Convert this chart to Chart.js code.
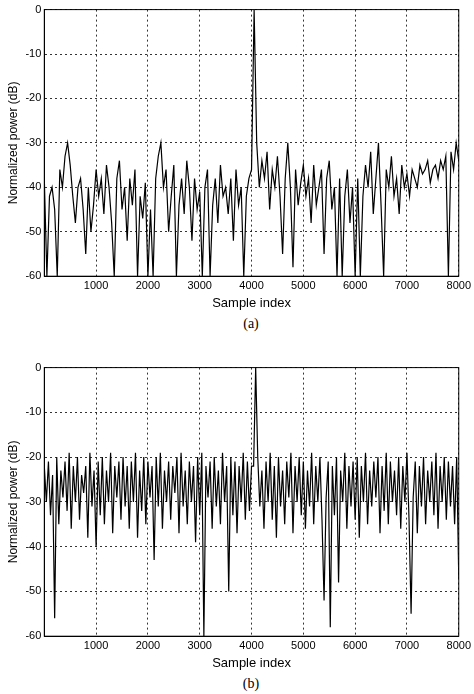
<!DOCTYPE html>
<html><head><meta charset="utf-8">
<script src="https://cdn.jsdelivr.net/npm/chart.js@4"></script>
<style>
body{margin:0;background:#fff;width:474px;height:694px;position:relative;font-family:"Liberation Serif",serif;}
.c{position:absolute;left:0;width:474px;}
.lab{position:absolute;width:474px;text-align:center;font-size:14px;left:14px;}
</style></head><body>
<div class="c" style="top:0;height:315px"><canvas id="ca"></canvas></div>
<div class="lab" style="top:316px">(a)</div>
<div class="c" style="top:358px;height:317px"><canvas id="cb"></canvas></div>
<div class="lab" style="top:676px">(b)</div>
<script>
const stepA = 50, stepB = 40;
const powerA = [-38,-60,-42,-40,-45,-60,-36,-40,-33,-30,-35,
-42,-48,-40,-38,-45,-55,-40,-50,-44,-36,
-42,-38,-46,-35,-40,-48,-60,-38,-34,-45,
-40,-52,-38,-44,-36,-60,-42,-47,-39,-60,
-45,-60,-38,-33,-30,-40,-36,-50,-42,-35,
-60,-44,-38,-46,-34,-40,-52,-38,-45,-41,
-60,-40,-36,-60,-44,-38,-48,-35,-42,-40,
-46,-38,-52,-36,-44,-40,-60,-42,-38,-36,
0,-30,-40,-34,-38,-32,-45,-36,-40,-33,
-42,-55,-38,-30,-40,-58,-36,-44,-39,-35,
-42,-38,-48,-35,-44,-40,-36,-55,-38,-34,
-45,-40,-60,-38,-60,-42,-36,-48,-40,-60,
-38,-60,-42,-35,-40,-32,-46,-38,-30,-44,
-60,-36,-40,-33,-42,-38,-46,-35,-40,-37,
-42,-36,-38,-40,-35,-37,-36,-34,-39,-36,
-35,-38,-34,-36,-33,-60,-32,-36,-30,-34];
const powerB = [-22,-30,-21,-33,-24,-56,-20,-35,-23,-29,
-21,-32,-19,-36,-22,-30,-20,-34,-24,-28,
-22,-38,-19,-31,-23,-40,-21,-33,-20,-35,
-23,-30,-19,-37,-22,-29,-21,-34,-20,-31,
-22,-36,-21,-30,-19,-38,-23,-32,-20,-35,
-21,-29,-22,-43,-20,-31,-19,-36,-23,-30,
-21,-34,-22,-28,-20,-37,-19,-31,-23,-35,
-21,-30,-22,-39,-20,-33,-19,-60,-22,-29,
-21,-36,-20,-31,-23,-35,-19,-30,-22,-50,
-20,-33,-21,-37,-22,-30,-19,-34,-21,-32,
-22,-22,0,-20,-31,-23,-36,-21,-30,-19,
-34,-22,-38,-20,-31,-23,-35,-21,-29,-19,
-37,-22,-30,-20,-33,-21,-36,-23,-31,-19,
-35,-22,-30,-20,-34,-52,-29,-21,-58,-22,
-33,-20,-48,-23,-30,-19,-36,-22,-31,-21,
-34,-20,-38,-22,-30,-19,-35,-23,-31,-21,
-29,-20,-37,-22,-32,-19,-35,-21,-30,-23,
-33,-20,-36,-22,-30,-19,-34,-55,-29,-21,
-37,-22,-31,-20,-35,-23,-30,-21,-33,-19,
-36,-22,-30,-20,-34,-21,-31,-22,-35,-20,-47];
const xTicks = [0,1000,2000,3000,4000,5000,6000,7000,8000];
const yTicks = [-60,-50,-40,-30,-20,-10,0];

const frame = {id:'frame',afterDraw(c){const a=c.chartArea,x=c.ctx;x.save();x.strokeStyle='#000';x.lineWidth=1;x.setLineDash([]);x.strokeRect(a.left,a.top,a.right-a.left,a.bottom-a.top);x.restore();}};
function make(id,vals,step){
  const pts = vals.map((v,i)=>({x:i*step,y:v}));
  const tf = {family:'Liberation Sans',size:11};
  return new Chart(document.getElementById(id),{type:'line',
    data:{datasets:[{data:pts,borderColor:'#000',borderWidth:1.2,pointRadius:0,tension:0}]},
    options:{animation:false,responsive:true,maintainAspectRatio:false,
      layout:{padding:{top:5,right:12,left:2}},
      plugins:{legend:{display:false},tooltip:{enabled:false}},
      scales:{
        x:{type:'linear',min:0,max:8000,afterBuildTicks(s){s.ticks=xTicks.map(v=>({value:v}));},
          ticks:{color:'#000',font:tf,maxRotation:0,callback:v=>v===0?'':v},
          grid:{color:'#000',lineWidth:0.8,drawTicks:false},border:{dash:[2,3],color:'#000'},
          title:{display:true,text:'Sample index',color:'#000',font:{family:'Liberation Sans',size:13},padding:{top:0}}},
        y:{min:-60,max:0,afterBuildTicks(s){s.ticks=yTicks.map(v=>({value:v}));},
          ticks:{color:'#000',font:tf},
          grid:{color:'#000',lineWidth:0.8,drawTicks:false},border:{dash:[2,3],color:'#000'},
          title:{display:true,text:'Normalized power (dB)',color:'#000',font:{family:'Liberation Sans',size:12},padding:{bottom:2}}}
      }},plugins:[frame]});
}
make('ca',powerA,stepA);
make('cb',powerB,stepB);
</script></body></html>
